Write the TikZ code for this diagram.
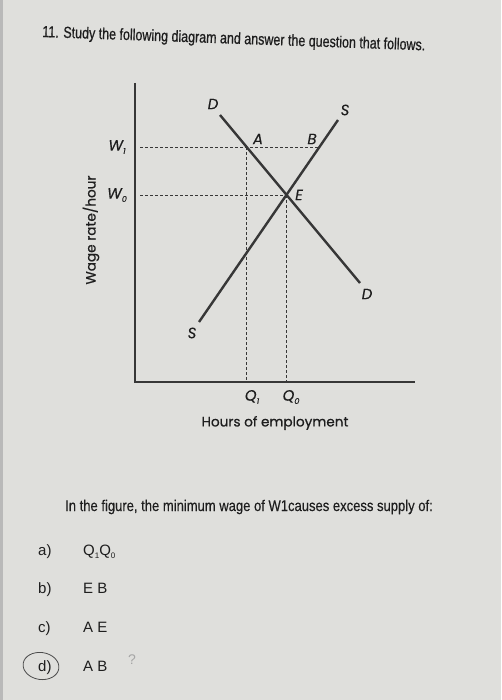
\documentclass[tikz,border=0pt]{standalone}
\usepackage{fontspec}
\setmainfont{Liberation Sans}
\newfontfamily\narrowfont[FakeStretch=0.78,FakeBold=0.7]{Liberation Sans}
\newfontfamily\qfont[FakeStretch=0.84,FakeBold=0.3]{Liberation Sans}
\newfontfamily\geofont[FakeBold=0.8]{Poppins}
\newfontfamily\geolight[FakeBold=0.2]{Poppins}
\definecolor{paper}{RGB}{223,223,220}
\definecolor{ink}{RGB}{30,30,30}
\definecolor{lineink}{RGB}{55,55,55}
\newcommand{\lsub}[1]{\raisebox{-0.4ex}{\footnotesize #1}}
\tikzset{
  axisline/.style={draw=lineink, line width=1.3pt},
  curveline/.style={draw=lineink, line width=2.4pt},
  guide/.style={draw=lineink, line width=0.8pt, dash pattern=on 3pt off 2pt},
  lbl/.style={text=ink, font=\geolight\itshape\fontsize{15}{15}\selectfont, inner sep=0pt},
  axlbl/.style={text=ink, font=\geofont\fontsize{13.6}{14}\selectfont, inner sep=0pt},
  opt/.style={text=ink, font=\fontsize{15}{16}\selectfont, inner sep=0pt, anchor=base west}
}
\begin{document}
\begin{tikzpicture}[x=1pt,y=-1pt]
\fill[paper] (0,0) rectangle (501,700);
\fill[gray!55] (0,0) rectangle (3,700);
\useasboundingbox (0,0) rectangle (501,700);
% title
\node[text=ink, font=\narrowfont\fontsize{16}{17}\selectfont, inner sep=0pt, anchor=base west, rotate=-2] (title) at (42,37) {11. Study the following diagram and answer the question that follows.};
% axes
\coordinate (ytop) at (135,83);
\coordinate (O) at (135,382);
\coordinate (xend) at (415,382);
\draw[axisline] (ytop) -- (O) -- (xend);
% curves
\coordinate (Dtop) at (220,115);
\coordinate (Dbot) at (360,283);
\coordinate (Stop) at (338,120);
\coordinate (Sbot) at (199,322);
\coordinate (A) at (246.7,147);
\coordinate (B) at (319,147);
\coordinate (E) at (286.5,195);
\coordinate (W1) at (140,147);
\coordinate (W0) at (140,195);
\coordinate (Q1) at (246.7,382);
\coordinate (Q0) at (286.5,382);
\draw[guide] (W1) -- (B);
\draw[guide] (W0) -- (E);
\draw[guide] (A) -- (Q1);
\draw[guide] (E) -- (Q0);
\draw[curveline] (Dtop) -- (Dbot);
\draw[curveline] (Sbot) -- (Stop);
% labels
\node[lbl] (Dt) at (213,104) {D};
\node[lbl] (Db) at (367,294) {D};
\node[lbl] (St) at (345,110) {S};
\node[lbl] (Sb) at (192,333) {S};
\node[lbl] (Al) at (258,139) {A};
\node[lbl] (Bl) at (312,139) {B};
\node[lbl] (El) at (299,195) {E};
\node[lbl] (W1l) at (117,147) {W\lsub{1}};
\node[lbl] (W0l) at (117,195) {W\lsub{0}};
\node[lbl] (Q1l) at (252,397) {Q\lsub{1}};
\node[lbl] (Q0l) at (291,397) {Q\lsub{0}};
\node[axlbl] (hours) at (275,423) {Hours of employment};
\node[axlbl, rotate=90] (wage) at (91,230) {Wage rate/hour};
% question
\node[text=ink, font=\qfont\fontsize{15.5}{16}\selectfont, inner sep=0pt, anchor=base west] (q) at (65,511) {In the figure, the minimum wage of W1causes excess supply of:};
\node[opt] (a) at (38,555) {a)};
\node[opt] (aa) at (83,555) {Q\lsub{1}Q\lsub{0}};
\node[opt] (b) at (38,593) {b)};
\node[opt] (bb) at (83,593) {E B};
\node[opt] (c) at (38,632) {c)};
\node[opt] (cc) at (83,632) {A E};
\node[opt] (d) at (38,671) {d)};
\node[opt] (dd) at (83,671) {A B};
\draw[ink!80, line width=0.8pt, rotate around={-8:(41,666)}] (41,666) ellipse [x radius=18, y radius=13.5];
\node[text=gray!70, font=\fontsize{14}{14}\selectfont, inner sep=0pt] (qm) at (132,660) {?};
\end{tikzpicture}
\end{document}
